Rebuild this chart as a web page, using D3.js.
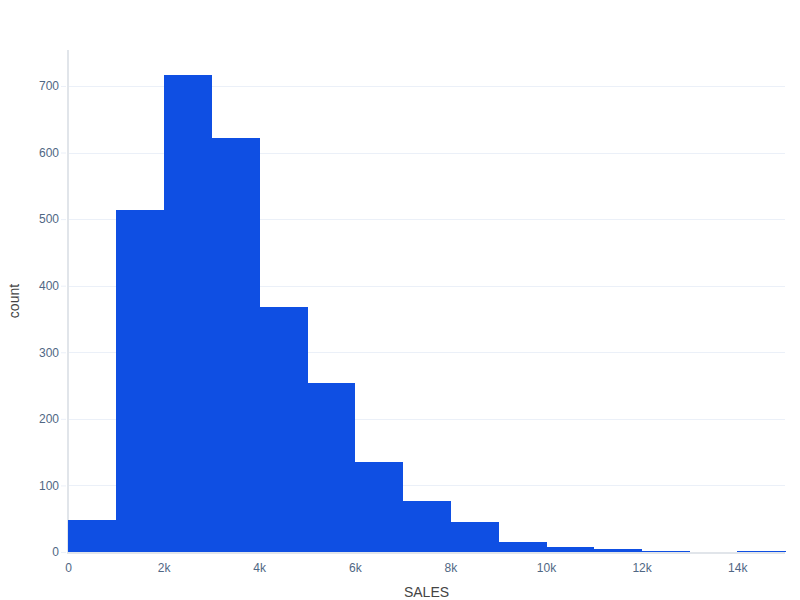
<!DOCTYPE html>
<html>
<head>
<meta charset="utf-8">
<script src="https://cdn.jsdelivr.net/npm/d3@7"></script>
<style>
  body { margin: 0; background: #fff; }
  svg { font-family: Arial, "Liberation Sans", sans-serif; }
</style>
</head>
<body>
<svg id="chart" width="800" height="600"></svg>
<script>
// histogram bins of SALES (1k wide) and their counts
const binStarts = [0, 1000, 2000, 3000, 4000, 5000, 6000, 7000, 8000, 9000, 10000, 11000, 12000, 13000, 14000];
const binWidth = 1000;
const counts = [48, 514, 717, 622, 368, 254, 135, 77, 45, 15, 7, 5, 1, 0, 1];
const xTicks = [0, 2000, 4000, 6000, 8000, 10000, 12000, 14000];
const yTicks = [0, 100, 200, 300, 400, 500, 600, 700];

const width = 800;
const height = 600;
const margin = { top: 50, right: 15, bottom: 48, left: 68 };
const fontFamily = "Arial, \"Liberation Sans\", sans-serif";

const svg = d3.select("svg#chart");

const x = d3.scaleLinear()
    .domain([0, 15000])
    .range([margin.left, width - margin.right]);

const y = d3.scaleLinear()
    .domain([0, 754])
    .range([height - margin.bottom, margin.top]);

// grid lines
svg.append("g")
    .selectAll("line")
    .data(yTicks.filter(d => d > 0))
    .enter()
        .append("line")
        .attr("x1", margin.left)
        .attr("x2", width - margin.right)
        .attr("y1", d => Math.round(y(d)) + 0.5)
        .attr("y2", d => Math.round(y(d)) + 0.5)
        .attr("stroke", "#ebf0f8")
        .attr("stroke-width", 1);

// zero lines
svg.append("line")
    .attr("x1", margin.left).attr("x2", width - margin.right)
    .attr("y1", y(0) + 1).attr("y2", y(0) + 1)
    .attr("stroke", "#e1e5ea").attr("stroke-width", 2);
svg.append("line")
    .attr("x1", x(0)).attr("x2", x(0))
    .attr("y1", margin.top).attr("y2", y(0) + 2)
    .attr("stroke", "#e1e5ea").attr("stroke-width", 2);

// bars (tiny counts still get a visible 1px sliver, like plotly)
svg.append("g")
    .attr("shape-rendering", "crispEdges")
    .selectAll("rect")
    .data(binStarts.map((b, i) => ({ start: b, count: counts[i] })).filter(d => d.count > 0))
    .enter()
        .append("rect")
        .attr("x", d => x(d.start))
        .attr("width", d => x(d.start + binWidth) - x(d.start) + 0.5)
        .attr("y", d => Math.min(y(d.count), y(0) - 1.5))
        .attr("height", d => Math.max(y(0) - y(d.count), 1.5))
        .attr("fill", "#0f4fe3");

// y axis
const yAxis = svg.append("g")
    .attr("transform", `translate(${margin.left - 1},0)`)
    .call(d3.axisLeft(y).tickValues(yTicks).tickSize(5).tickPadding(3));
yAxis.select(".domain").remove();
yAxis.selectAll(".tick line").attr("stroke", "#ebf0f8").attr("transform", "translate(-1,0)");
yAxis.selectAll(".tick text")
    .attr("fill", "#506784")
    .attr("font-size", 12)
    .attr("font-family", fontFamily);

// x axis
const xAxis = svg.append("g")
    .attr("transform", `translate(0,${y(0) + 2})`)
    .call(d3.axisBottom(x).tickValues(xTicks).tickSize(0).tickPadding(9)
        .tickFormat(d => d === 0 ? "0" : d / 1000 + "k"));
xAxis.select(".domain").remove();
xAxis.selectAll(".tick text")
    .attr("fill", "#506784")
    .attr("font-size", 12)
    .attr("font-family", fontFamily);

// axis titles
svg.append("text")
    .attr("x", (margin.left + width - margin.right) / 2)
    .attr("y", 597)
    .attr("text-anchor", "middle")
    .attr("font-size", 14)
    .attr("fill", "#444")
    .text("SALES");

svg.append("text")
    .attr("transform", `translate(19,${(margin.top + height - margin.bottom) / 2}) rotate(-90)`)
    .attr("text-anchor", "middle")
    .attr("font-size", 14)
    .attr("fill", "#444")
    .text("count");
</script>
</body>
</html>
